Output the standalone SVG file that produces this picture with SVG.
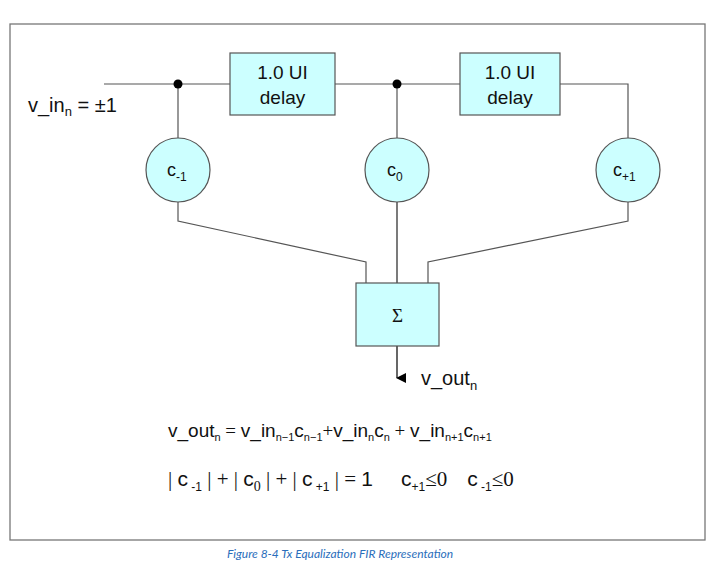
<svg xmlns="http://www.w3.org/2000/svg" width="714" height="565" viewBox="0 0 714 565">
<style>
.w{stroke:#555;stroke-width:1.2;fill:none}
.b{fill:#ccffff;stroke:#555;stroke-width:1.2}
.t{font-family:"Liberation Sans",Arial,sans-serif;fill:#111}
.s{font-family:"Liberation Serif","Times New Roman",serif;fill:#111}
</style>
<defs><marker id="ar" markerWidth="10" markerHeight="10" refX="5" refY="9" orient="auto" markerUnits="userSpaceOnUse"><path d="M0,0 L10,0 L5,10 Z" fill="#000"/></marker></defs>
<rect x="10" y="24" width="695" height="516" fill="#fff" stroke="#777" stroke-width="1.3"/>
<g id="connectors">
<path class="w" d="M104,84 H230 M335,84 H460 M560,84 H628 V138"/>
<path class="w" d="M178,84 V138 M397,84 V138"/>
<path class="w" d="M178,202 V221 L366,262 V283 M628,202 V221 L428,262 V283"/>
<path d="M397,202 V283" stroke="#222" stroke-width="1.2"/>
<path d="M397,346 V378" stroke="#000" stroke-width="1.2" marker-end="url(#ar)"/>
<circle cx="178" cy="84" r="4.5" fill="#000"/>
<circle cx="397" cy="84" r="4.5" fill="#000"/>
</g>
<g id="delay1"><rect class="b" x="230" y="53" width="105" height="62"/>
<text class="t" x="282.5" y="79" font-size="19" text-anchor="middle">1.0 UI</text>
<text class="t" x="282.5" y="104" font-size="19" text-anchor="middle">delay</text></g>
<g id="delay2"><rect class="b" x="460" y="53" width="100" height="62"/>
<text class="t" x="510" y="79" font-size="19" text-anchor="middle">1.0 UI</text>
<text class="t" x="510" y="104" font-size="19" text-anchor="middle">delay</text></g>
<g id="cm1"><circle class="b" cx="178" cy="170" r="32"/>
<text class="t" x="167" y="176" font-size="18">c<tspan font-size="12" dy="5">-1</tspan></text></g>
<g id="c0"><circle class="b" cx="397" cy="170" r="32"/>
<text class="t" x="387" y="176" font-size="18">c<tspan font-size="12" dy="5">0</tspan></text></g>
<g id="cp1"><circle class="b" cx="628" cy="170" r="32"/>
<text class="t" x="613" y="176" font-size="18">c<tspan font-size="12" dy="5">+1</tspan></text></g>
<g id="sum"><rect class="b" x="356" y="283" width="83" height="63"/>
<text class="s" x="397.5" y="322" font-size="19" text-anchor="middle">Σ</text></g>
<text class="t" x="28" y="112" font-size="20">v_in<tspan font-size="13" dy="4">n</tspan><tspan dy="-4"> = ±1</tspan></text>
<text class="t" x="421" y="385" font-size="20">v_out<tspan font-size="13" dy="5">n</tspan></text>
<text class="t" x="168" y="437" font-size="19">v_out<tspan font-size="11" dy="4">n</tspan><tspan dy="-4" class="s"> = </tspan>v_in<tspan font-size="11" dy="4">n−1</tspan><tspan dy="-4">c</tspan><tspan font-size="11" dy="4">n−1</tspan><tspan dy="-4" class="s">+</tspan>v_in<tspan font-size="11" dy="4">n</tspan><tspan dy="-4">c</tspan><tspan font-size="11" dy="4">n</tspan><tspan dy="-4" class="s"> + </tspan>v_in<tspan font-size="11" dy="4">n+1</tspan><tspan dy="-4">c</tspan><tspan font-size="11" dy="4">n+1</tspan></text>
<text class="t" x="168" y="486" font-size="21"><tspan class="s">| </tspan>c<tspan font-size="12" dy="5"> -1</tspan><tspan dy="-5" class="s"> | + | </tspan>c<tspan font-size="14" dy="5" class="s">0</tspan><tspan dy="-5" class="s"> | + | </tspan>c<tspan font-size="12" dy="5"> +1</tspan><tspan dy="-5" class="s"> | = </tspan>1<tspan dx="28">c</tspan><tspan font-size="12" dy="5">+1</tspan><tspan dy="-5" class="s">≤0</tspan><tspan dx="20">c</tspan><tspan font-size="12" dy="5"> -1</tspan><tspan dy="-5" class="s">≤0</tspan></text>
<text x="227" y="558" font-family="Lato,'Open Sans',sans-serif" font-style="italic" font-size="12" fill="#2a6ebb">Figure  8-4  Tx Equalization FIR Representation</text>
</svg>
